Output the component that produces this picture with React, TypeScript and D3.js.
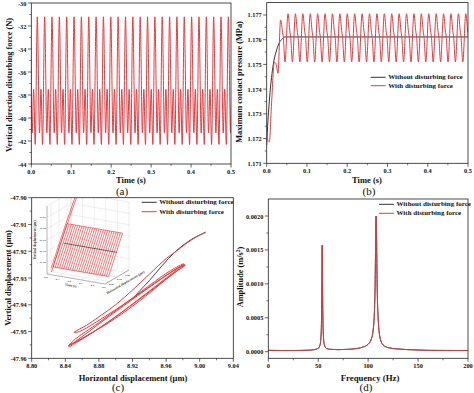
import React from "react";
import * as d3 from "d3";

const W = 474;
const H = 393;
const FONT = "'Liberation Serif', 'Times New Roman', serif";
const RED = "#e8393e";
const BLACK = "#333333";
const AXIS = "#222222";

// ---------- (a) vertical disturbing force ----------
const timeTicks = [0, 0.1, 0.2, 0.3, 0.4, 0.5];
const forceTicks = [-44, -42, -40, -38, -36, -34, -32, -30];
const forcePeriod = 0.0184;
const forceFirstPeak = 0.015;
const forceCyclePhase = [0, 0.3, 0.5, 0.72];
const forceCycleValue = [-31.2, -41.3, -37.5, -42.3];

// ---------- (b) maximum contact pressure ----------
const pressureTicks = [1.171, 1.172, 1.173, 1.174, 1.175, 1.176, 1.177];
const pressureBlackT = [0, 0.003, 0.006, 0.009, 0.013, 0.0174, 0.025, 0.032, 0.038, 0.045, 0.5];
const pressureBlackV = [1.17174, 1.1727, 1.1734, 1.174, 1.1746, 1.1751, 1.1756, 1.1759, 1.17602, 1.17611, 1.17611];
const pressureRedT = [0, 0.0065, 0.012, 0.0189, 0.0231, 0.028, 0.0345];
const pressureRedV = [1.17205, 1.17187, 1.1734, 1.17509, 1.17503, 1.17464, 1.1768];
const pressurePeriod = 0.0184;
const pressureFirstPeak = 0.0345;
const pressureCyclePhase = [0, 0.27, 0.35, 0.6];
const pressureCycleValue = [1.17705, 1.1763, 1.17615, 1.1751];

// ---------- (c) displacement trajectory ----------
const hTicks = [8.8, 8.84, 8.88, 8.92, 8.96, 9.0, 9.04];
const vTicks = [-47.96, -47.95, -47.94, -47.93, -47.92, -47.91, -47.9];
const dispBlackH = [9.0071, 8.99, 8.9708, 8.955, 8.94, 8.928, 8.919];
const dispBlackV = [-47.9129, -47.9156, -47.9202, -47.9255, -47.931, -47.935, -47.9382];
const dispRedH = [
  9.0071, 8.9964, 8.9845, 8.9726, 8.9607, 8.94, 8.92, 8.9, 8.88, 8.865, 8.855, 8.8504,
  8.857, 8.875, 8.9, 8.93, 8.96, 8.975, 8.982,
  8.976, 8.955, 8.93, 8.9, 8.87, 8.85, 8.8436,
  8.85, 8.88, 8.91, 8.94, 8.965, 8.981,
  8.975, 8.95, 8.92, 8.89, 8.862, 8.845,
  8.852, 8.885, 8.92, 8.95, 8.972, 8.983,
  8.97, 8.94, 8.91, 8.88, 8.855, 8.8445,
];
const dispRedV = [
  -47.9129, -47.9146, -47.917, -47.9199, -47.9226, -47.9286, -47.9345, -47.94, -47.9445, -47.9477, -47.9494, -47.9503,
  -47.95, -47.9468, -47.9418, -47.9355, -47.929, -47.926, -47.925,
  -47.9266, -47.9318, -47.9382, -47.945, -47.9508, -47.9543, -47.9555,
  -47.9533, -47.9467, -47.9398, -47.9328, -47.9273, -47.9247,
  -47.9263, -47.9325, -47.9397, -47.9467, -47.9523, -47.955,
  -47.9537, -47.946, -47.938, -47.9313, -47.9267, -47.9252,
  -47.928, -47.9352, -47.9422, -47.9488, -47.9538, -47.9558,
];
// inset (3D view)
const insetTimeTicks = [0, 0.1, 0.2, 0.3, 0.4, 0.5];
const insetHTicks = [8.84, 8.92, 9.0];
const insetVTicks = [-47.95, -47.94, -47.93, -47.92, -47.91];
const insetTransientT = [0.002, 0.004, 0.006, 0.008];
const insetTransientH = [8.84, 8.96, 9.08, 9.2];
const insetTransientV = [-47.957, -47.93, -47.905, -47.88];

// ---------- (d) spectrum ----------
const freqTicks = [0, 50, 100, 150, 200];
const ampTicks = [0, 0.0005, 0.001, 0.0015, 0.002];
const freq = [0, 10, 20, 30, 40, 45, 50, 52, 53, 53.5, 54, 54.5, 55, 56, 58, 62, 70, 80, 90, 95, 100, 103, 105, 106, 107, 107.5, 108, 108.5, 109, 110, 112, 115, 120, 130, 140, 150, 160, 180, 200];
const amp = [0.00002, 0.000018, 0.000017, 0.000018, 0.000022, 0.000028, 0.00005, 0.00011, 0.0003, 0.0007, 0.00157, 0.0007, 0.0003, 0.00011, 0.00005, 0.000035, 0.00003, 0.000035, 0.00005, 0.00007, 0.00011, 0.00018, 0.00032, 0.0005, 0.001, 0.0016, 0.002, 0.0016, 0.001, 0.0005, 0.0002, 0.0001, 0.00006, 0.00004, 0.00003, 0.000025, 0.00002, 0.000018, 0.000017];

const seriesLabels = ["Without disturbing force", "With disturbing force"];

type Scale = d3.ScaleLinear<number, number>;

const mids = (t: number[]) => d3.pairs(t).map(([a, b]) => (a + b) / 2);

function tile(first: number, period: number, phases: number[], values: number[], tEnd: number) {
  const out: [number, number][] = [];
  for (let k = Math.floor(-first / period) - 1; first + k * period <= tEnd + period; k++) {
    phases.forEach((p, i) => out.push([first + (k + p) * period, values[i]]));
  }
  return out;
}

function Axes({ x, y, xTicks, yTicks, fx, fy }: { x: Scale; y: Scale; xTicks: number[]; yTicks: number[]; fx: (v: number) => string; fy: (v: number) => string }) {
  const [xl, xr] = x.range();
  const [yb, yt] = y.range();
  return (
    <g fontWeight="bold" fontSize={6.3} fill="#111">
      {mids(xTicks).map((v) => (
        <line key={"xm" + v} x1={x(v)} x2={x(v)} y1={yb} y2={yb + 2} stroke={AXIS} strokeWidth={0.6} />
      ))}
      {mids(yTicks).map((v) => (
        <line key={"ym" + v} x1={xl - 2} x2={xl} y1={y(v)} y2={y(v)} stroke={AXIS} strokeWidth={0.6} />
      ))}
      {xTicks.map((v) => (
        <g key={"x" + v}>
          <line x1={x(v)} x2={x(v)} y1={yb} y2={yb + 3.5} stroke={AXIS} strokeWidth={0.7} />
          <text x={x(v)} y={yb + 10} textAnchor="middle">{fx(v)}</text>
        </g>
      ))}
      {yTicks.map((v) => (
        <g key={"y" + v}>
          <line x1={xl - 3.5} x2={xl} y1={y(v)} y2={y(v)} stroke={AXIS} strokeWidth={0.7} />
          <text x={xl - 5} y={y(v)} textAnchor="end" dominantBaseline="central">{fy(v)}</text>
        </g>
      ))}
      <rect x={xl} y={yt} width={xr - xl} height={yb - yt} fill="none" stroke={AXIS} strokeWidth={0.8} />
    </g>
  );
}

function Legend({ x, y, gap }: { x: number; y: number; gap: number }) {
  return (
    <g fontWeight="bold" fontSize={7} fill="#111">
      {seriesLabels.map((s, i) => (
        <g key={s}>
          <line x1={x} x2={x + 15} y1={y + i * gap} y2={y + i * gap} stroke={i === 0 ? BLACK : RED} strokeWidth={1} />
          <text x={x + 17.5} y={y + i * gap} dominantBaseline="central">{s}</text>
        </g>
      ))}
    </g>
  );
}

function Titles({ xLabel, xx, xy, yLabel, yx, yy, cap, cx, cy }: any) {
  return (
    <g fill="#111">
      <text x={xx} y={xy} textAnchor="middle" fontWeight="bold" fontSize={8.5}>{xLabel}</text>
      <text transform={`translate(${yx},${yy}) rotate(-90)`} textAnchor="middle" dominantBaseline="central" fontWeight="bold" fontSize={8.3}>{yLabel}</text>
      <text x={cx} y={cy} textAnchor="middle" fontSize={11}>{cap}</text>
    </g>
  );
}

function PanelA() {
  const x = d3.scaleLinear([0, 0.5], [31.3, 231]);
  const y = d3.scaleLinear([-44, -30], [164, 3]);
  const pts = tile(forceFirstPeak, forcePeriod, forceCyclePhase, forceCycleValue, 0.5);
  const line = d3.line<[number, number]>().x((d) => x(d[0])).y((d) => y(d[1])).curve(d3.curveMonotoneX);
  return (
    <g>
      <clipPath id="clipA"><rect x={31.3} y={3} width={199.7} height={161} /></clipPath>
      <path d={line(pts) || ""} fill="none" stroke={RED} strokeWidth={1} clipPath="url(#clipA)" />
      <Axes x={x} y={y} xTicks={timeTicks} yTicks={forceTicks} fx={(v) => v.toFixed(1)} fy={(v) => v.toFixed(0)} />
      <Titles xLabel="Time (s)" xx={131} xy={182.5} yLabel="Vertical direction disturbing force (N)" yx={9.5} yy={85} cap="(a)" cx={122} cy={195} />
    </g>
  );
}

function PanelB() {
  const x = d3.scaleLinear([0, 0.5], [266.7, 468]);
  const y = d3.scaleLinear([1.171, 1.1775], [163.3, 2.6]);
  const red: [number, number][] = pressureRedT.map((t, i) => [t, pressureRedV[i]]);
  tile(pressureFirstPeak, pressurePeriod, pressureCyclePhase, pressureCycleValue, 0.5)
    .filter((d) => d[0] > pressureFirstPeak + 1e-6)
    .forEach((d) => red.push(d));
  const black: [number, number][] = pressureBlackT.map((t, i) => [t, pressureBlackV[i]]);
  const line = d3.line<[number, number]>().x((d) => x(d[0])).y((d) => y(d[1])).curve(d3.curveMonotoneX);
  return (
    <g>
      <clipPath id="clipB"><rect x={266.7} y={2.6} width={201.3} height={160.7} /></clipPath>
      <g clipPath="url(#clipB)" fill="none">
        <path d={line(black) || ""} stroke={BLACK} strokeWidth={1} />
        <path d={line(red) || ""} stroke={RED} strokeWidth={1} />
      </g>
      <Axes x={x} y={y} xTicks={timeTicks} yTicks={pressureTicks} fx={(v) => v.toFixed(1)} fy={(v) => v.toFixed(3)} />
      <Legend x={370.7} y={77.3} gap={8.4} />
      <Titles xLabel="Time (s)" xx={367} xy={182.5} yLabel="Maximum contact pressure (MPa)" yx={239.5} yy={82} cap="(b)" cx={369} cy={195} />
    </g>
  );
}

function Inset() {
  const B = [47, 274];
  const T = [58, 10];
  const Hv = [24, -14];
  const Vh = 68;
  const ts = d3.scaleLinear([0, 0.5], [0, 1]);
  const hs = d3.scaleLinear([8.8, 9.04], [0, 1]);
  const vs = d3.scaleLinear([-47.96, -47.9], [0, 1]);
  const p = (t: number, h: number, v: number): [number, number] => {
    const a = ts(t), b = hs(h), c = vs(v);
    return [B[0] + a * T[0] + b * Hv[0], B[1] + a * T[1] + b * Hv[1] - c * Vh];
  };
  const [h0, h1] = [8.8, 9.04];
  const [v0, v1] = [-47.96, -47.9];
  const loopH = d3.extent(dispRedH.slice(12)) as [number, number];
  const loopV = d3.extent(dispRedV.slice(12)) as [number, number];
  const stripeTimes = d3.range(forceFirstPeak, 0.5, forcePeriod);
  const pl = (pts: [number, number][]) => pts.map((q) => q.join(",")).join(" ");
  const grid = "#cfcfcf";
  const black = [dispBlackH[dispBlackH.length - 1], dispBlackV[dispBlackV.length - 1]];
  const line = d3.line<[number, number]>().curve(d3.curveCatmullRom);
  const trans = insetTransientT.map((t, i) => p(t, insetTransientH[i], insetTransientV[i]));
  const trans2 = insetTransientT.map((t, i) => p(t + 0.006, insetTransientH[i] - 0.005, insetTransientV[i] - 0.003));
  const hAng = (Math.atan2(Hv[1], Hv[0]) * 180) / Math.PI;
  const tAng = (Math.atan2(T[1], T[0]) * 180) / Math.PI;
  return (
    <g>
      <polygon points={pl([p(0, h0, v0), p(0, h1, v0), p(0, h1, v1), p(0, h0, v1)])} fill="#fff" stroke="none" />
      <polygon points={pl([p(0, h1, v0), p(0.5, h1, v0), p(0.5, h1, v1), p(0, h1, v1)])} fill="#fff" stroke="none" />
      <polygon points={pl([p(0, h0, v0), p(0.5, h0, v0), p(0.5, h1, v0), p(0, h1, v0)])} fill="#fff" stroke="none" />
      <g stroke={grid} strokeWidth={0.35} fill="none">
        {insetHTicks.map((h) => (
          <g key={"gh" + h}>
            <line x1={p(0, h, v0)[0]} y1={p(0, h, v0)[1]} x2={p(0, h, v1)[0]} y2={p(0, h, v1)[1]} />
            <line x1={p(0, h, v0)[0]} y1={p(0, h, v0)[1]} x2={p(0.5, h, v0)[0]} y2={p(0.5, h, v0)[1]} />
          </g>
        ))}
        {insetTimeTicks.map((t) => (
          <g key={"gt" + t}>
            <line x1={p(t, h1, v0)[0]} y1={p(t, h1, v0)[1]} x2={p(t, h1, v1)[0]} y2={p(t, h1, v1)[1]} />
            <line x1={p(t, h0, v0)[0]} y1={p(t, h0, v0)[1]} x2={p(t, h1, v0)[0]} y2={p(t, h1, v0)[1]} />
          </g>
        ))}
        {insetVTicks.map((v) => (
          <polyline key={"gv" + v} points={pl([p(0, h0, v), p(0, h1, v), p(0.5, h1, v)])} />
        ))}
        <polyline points={pl([p(0, h0, v1), p(0, h1, v1), p(0.5, h1, v1)])} />
        <line x1={p(0, h1, v0)[0]} y1={p(0, h1, v0)[1]} x2={p(0, h1, v1)[0]} y2={p(0, h1, v1)[1]} />
      </g>
      <g stroke={RED} strokeWidth={0.65}>
        {stripeTimes.map((t, i) => {
          const a = p(t, loopH[0], loopV[0]);
          const b = p(t, loopH[1], loopV[1]);
          return <line key={i} x1={a[0]} y1={a[1]} x2={b[0]} y2={b[1]} />;
        })}
        {[0, 1].map((k) => {
          const a = p(stripeTimes[0], loopH[k], loopV[k]);
          const b = p(stripeTimes[stripeTimes.length - 1], loopH[k], loopV[k]);
          return <line key={"e" + k} x1={a[0]} y1={a[1]} x2={b[0]} y2={b[1]} />;
        })}
      </g>
      <path d={line(trans) || ""} fill="none" stroke={RED} strokeWidth={0.7} />
      <path d={line(trans2) || ""} fill="none" stroke={RED} strokeWidth={0.7} />
      <line x1={p(0.04, black[0], black[1])[0]} y1={p(0.04, black[0], black[1])[1]} x2={p(0.5, black[0], black[1])[0]} y2={p(0.5, black[0], black[1])[1]} stroke={BLACK} strokeWidth={0.7} />
      <g stroke="#444" strokeWidth={0.4} fill="none">
        <polyline points={pl([p(0, h0, v1), p(0, h0, v0), p(0.5, h0, v0), p(0.5, h1, v0)])} />
      </g>
      <g fontSize={2.8} fill="#333" fontWeight="bold">
        {insetTimeTicks.map((t) => {
          const q = p(t, h0, v0);
          return <text key={"tt" + t} x={q[0] - 1} y={q[1] + 3.8} textAnchor="middle">{t.toFixed(1)}</text>;
        })}
        {insetHTicks.map((h) => {
          const q = p(0.5, h, v0);
          return <text key={"th" + h} x={q[0] + 2.5} y={q[1] + 3.2} textAnchor="middle">{h.toFixed(2)}</text>;
        })}
        {insetVTicks.map((v) => {
          const q = p(0, h0, v);
          return <text key={"tv" + v} x={q[0] - 1} y={q[1]} textAnchor="end" dominantBaseline="central">{v.toFixed(2)}</text>;
        })}
        <text transform={`translate(${p(0.22, h0, v0)[0] - 2},${p(0.22, h0, v0)[1] + 8}) rotate(${tAng})`} textAnchor="middle" fontSize={3.4}>Time (s)</text>
        <text transform={`translate(${p(0.5, 8.93, v0)[0] + 8},${p(0.5, 8.93, v0)[1] + 7}) rotate(${hAng})`} textAnchor="middle" fontSize={3.4}>Horizontal displacement (μm)</text>
        <text transform={`translate(${p(0, h0, -47.93)[0] - 11},${p(0, h0, -47.93)[1]}) rotate(-90)`} textAnchor="middle" fontSize={3.4}>Vertical displacement (μm)</text>
      </g>
    </g>
  );
}

function PanelC() {
  const x = d3.scaleLinear([8.8, 9.04], [31.7, 233.3]);
  const y = d3.scaleLinear([-47.96, -47.9], [358.3, 197.7]);
  const line = d3.line<[number, number]>().x((d) => x(d[0])).y((d) => y(d[1])).curve(d3.curveCatmullRom.alpha(0.5));
  const red: [number, number][] = dispRedH.map((h, i) => [h, dispRedV[i]]);
  const black: [number, number][] = dispBlackH.map((h, i) => [h, dispBlackV[i]]);
  return (
    <g>
      <clipPath id="clipC"><rect x={31.7} y={197.7} width={201.6} height={160.6} /></clipPath>
      <g clipPath="url(#clipC)" fill="none">
        <path d={line(black) || ""} stroke={BLACK} strokeWidth={0.9} />
        <path d={line(red) || ""} stroke={RED} strokeWidth={1} />
        <Inset />
      </g>
      <Axes x={x} y={y} xTicks={hTicks} yTicks={vTicks} fx={(v) => v.toFixed(2)} fy={(v) => v.toFixed(2)} />
      <Legend x={141.7} y={202.3} gap={9.4} />
      <Titles xLabel="Horizontal displacement (μm)" xx={133} xy={380.5} yLabel="Vertical displacement (μm)" yx={8.5} yy={278} cap="(c)" cx={118} cy={391} />
    </g>
  );
}

function PanelD() {
  const x = d3.scaleLinear([0, 200], [268.3, 468]);
  const y = d3.scaleLinear([-0.0000973, 0.002251], [358.3, 199]);
  const line = d3.line<[number, number]>().x((d) => x(d[0])).y((d) => y(d[1])).curve(d3.curveMonotoneX);
  const pts: [number, number][] = freq.map((f, i) => [f, amp[i]]);
  return (
    <g>
      <clipPath id="clipD"><rect x={268.3} y={199} width={199.7} height={159.3} /></clipPath>
      <g clipPath="url(#clipD)" fill="none">
        <path d={line(pts) || ""} stroke={BLACK} strokeWidth={1} />
        <path d={line(pts) || ""} stroke={RED} strokeWidth={1} strokeOpacity={0.9} />
      </g>
      <Axes x={x} y={y} xTicks={freqTicks} yTicks={ampTicks} fx={(v) => v.toFixed(0)} fy={(v) => v.toFixed(4)} />
      <Legend x={379} y={204.3} gap={9} />
      <g fill="#111">
        <text x={370} y={380.5} textAnchor="middle" fontWeight="bold" fontSize={8.8}>Frequency (Hz)</text>
        <text transform="translate(240,277) rotate(-90)" textAnchor="middle" dominantBaseline="central" fontWeight="bold" fontSize={8.3}>
          Amplitude (m/s<tspan dy={-2.5} fontSize={5.5}>2</tspan><tspan dy={2.5}>)</tspan>
        </text>
        <text x={366} y={391} textAnchor="middle" fontSize={11}>(d)</text>
      </g>
    </g>
  );
}

export default function App() {
  return (
    <svg width={W} height={H} style={{ position: "absolute", left: 0, top: 0, background: "#fff" }} fontFamily={FONT}>
      <rect width={W} height={H} fill="#fff" />
      <PanelA />
      <PanelB />
      <PanelC />
      <PanelD />
    </svg>
  );
}
